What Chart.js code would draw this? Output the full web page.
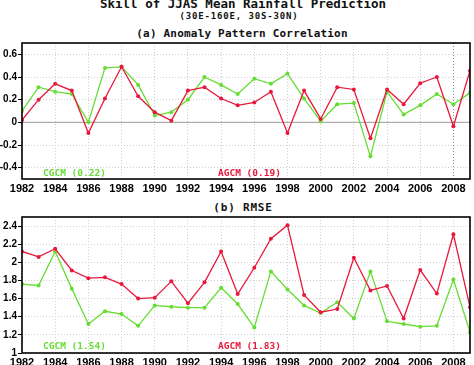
<!DOCTYPE html>
<html>
<head>
<meta charset="utf-8">
<script src="https://cdn.jsdelivr.net/npm/chart.js@4.4.1/dist/chart.umd.min.js"></script>
<style>
  html,body{margin:0;padding:0;background:#fff;overflow:hidden;width:474px;height:365px;}
  #wrap{position:relative;width:474px;height:365px;}
  canvas{position:absolute;left:0;}
  .t{position:absolute;white-space:nowrap;font-family:"DejaVu Sans Mono",monospace;font-weight:bold;color:#111;transform:translate(-50%,-50%);line-height:1;}
  .lab{position:absolute;white-space:nowrap;font-family:"DejaVu Sans Mono",monospace;font-weight:bold;font-size:9.5px;line-height:1;transform:translateY(-50%);}
</style>
</head>
<body>
<div id="wrap">
  <div class="t" style="left:243px;top:4px;font-size:12.5px;">Skill of JJAS Mean Rainfall Prediction</div>
  <div class="t" style="left:239px;top:16px;font-size:9px;letter-spacing:0.85px;">(30E-160E, 30S-30N)</div>
  <div class="t" style="left:242px;top:33px;font-size:11px;letter-spacing:0.2px;">(a) Anomaly Pattern Correlation</div>
  <div class="t" style="left:243px;top:207px;font-size:11px;letter-spacing:0.8px;">(b) RMSE</div>
  <canvas id="apc" width="474" height="163" style="top:36px"></canvas>
  <canvas id="rmse" width="474" height="163" style="top:210px"></canvas>
  <div class="lab" style="left:43px;top:173px;color:#66dd33;">CGCM (0.22)</div>
  <div class="lab" style="left:218px;top:173px;color:#e8183c;">AGCM (0.19)</div>
  <div class="lab" style="left:43px;top:346px;color:#66dd33;">CGCM (1.54)</div>
  <div class="lab" style="left:218px;top:346px;color:#e8183c;">AGCM (1.83)</div>
</div>
<script>
// ===== Data =====
const years = [1982,1983,1984,1985,1986,1987,1988,1989,1990,1991,1992,1993,1994,1995,
               1996,1997,1998,1999,2000,2001,2002,2003,2004,2005,2006,2007,2008,2009];
const xTicks = [1982,1984,1986,1988,1990,1992,1994,1996,1998,2000,2002,2004,2006,2008];

// (a) anomaly pattern correlation
const acCGCM = [0.10,0.31,0.27,0.25,0.00,0.48,0.49,0.33,0.06,0.09,0.20,0.40,0.33,0.25,
                0.385,0.34,0.43,0.21,0.01,0.16,0.17,-0.30,0.27,0.07,0.15,0.25,0.16,0.26];
const acAGCM = [0.02,0.20,0.34,0.28,-0.095,0.21,0.49,0.23,0.09,0.015,0.28,0.31,0.21,0.15,
                0.175,0.27,-0.095,0.28,0.03,0.31,0.29,-0.14,0.29,0.16,0.345,0.40,-0.035,0.455];
const acTicks = [-0.4,-0.2,0,0.2,0.4,0.6];

// (b) RMSE
const rmCGCM = [1.76,1.745,2.12,1.71,1.32,1.46,1.43,1.30,1.525,1.51,1.50,1.50,1.72,1.54,
                1.28,1.90,1.70,1.525,1.44,1.56,1.38,1.90,1.35,1.32,1.29,1.30,1.81,1.23];
const rmAGCM = [2.12,2.06,2.15,1.91,1.825,1.835,1.76,1.60,1.61,1.79,1.55,1.78,2.12,1.65,
                1.94,2.26,2.41,1.64,1.45,1.485,2.05,1.69,1.74,1.38,1.915,1.655,2.31,1.505];
const rmTicks = [1,1.2,1.4,1.6,1.8,2,2.2,2.4];

const GREEN = "#66dd33";
const RED = "#e8183c";

// ===== Helpers =====
const pts = arr => arr.map((v,i) => ({x: years[i], y: v}));

function series(label, arr, color, order){
  return { label, data: pts(arr), borderColor: color, backgroundColor: color,
           borderWidth: 1.3, pointRadius: 2, pointBorderWidth: 0, tension: 0, order };
}

// zero line under the data, black frame over it
const framePlugin = {
  id: "frame",
  beforeDatasetsDraw(chart, args, opts){
    if (!opts.zero) return;
    const {ctx, chartArea: a, scales} = chart;
    const y = scales.y.getPixelForValue(0);
    ctx.save();
    ctx.strokeStyle = "#999"; ctx.lineWidth = 1;
    ctx.beginPath(); ctx.moveTo(a.left, y); ctx.lineTo(a.right, y); ctx.stroke();
    ctx.restore();
  },
  afterDatasetsDraw(chart){
    const {ctx, chartArea: a} = chart;
    ctx.save();
    ctx.strokeStyle = "#000"; ctx.lineWidth = 1.6;
    ctx.strokeRect(a.left, a.top, a.right - a.left, a.bottom - a.top);
    ctx.restore();
  }
};

function makeChart(id, cg, ag, yMin, yMax, yTicks, zero){
  return new Chart(document.getElementById(id), {
    type: "line",
    data: { datasets: [ series("AGCM", ag, RED, 0), series("CGCM", cg, GREEN, 1) ] },
    plugins: [framePlugin],
    options: {
      responsive: false, animation: false, devicePixelRatio: 1,
      layout: { padding: { top: 5, right: 1, left: 0, bottom: 0 } },
      plugins: { legend: { display: false }, tooltip: { enabled: false }, frame: { zero } },
      scales: {
        x: {
          type: "linear", min: 1982, max: 2009,
          afterBuildTicks: s => { s.ticks = xTicks.map(v => ({value: v})); },
          afterFit: s => { s.height = 20; },
          ticks: { color: "#000", padding: 3, maxRotation: 0, autoSkip: false,
                   font: { family: "Liberation Sans", weight: "bold", size: 11 },
                   callback: v => String(v) },
          grid: { color: c => (zero && c.tick && c.tick.value === 2008) ? "#888" : "#cfcfcf",
                  lineWidth: 1, drawTicks: false },
          border: { display: false, dash: [1, 2] }
        },
        y: {
          min: yMin, max: yMax,
          afterBuildTicks: s => { s.ticks = yTicks.map(v => ({value: v})); },
          afterFit: s => { s.width = 22; },
          ticks: { color: "#000", padding: 1,
                   font: { family: "Liberation Sans", weight: "bold", size: 10 },
                   callback: v => String(Math.round(v * 10) / 10) },
          grid: { color: c => (zero && c.tick && c.tick.value === 0) ? "rgba(0,0,0,0)" : "#cfcfcf",
                  lineWidth: 1, drawTicks: true, tickLength: 4, tickColor: "#000" },
          border: { display: false, dash: [1, 2] }
        }
      }
    }
  });
}

makeChart("apc", acCGCM, acAGCM, -0.5, 0.7, acTicks, true);
makeChart("rmse", rmCGCM, rmAGCM, 1.0, 2.5, rmTicks, false);
</script>
</body>
</html>
